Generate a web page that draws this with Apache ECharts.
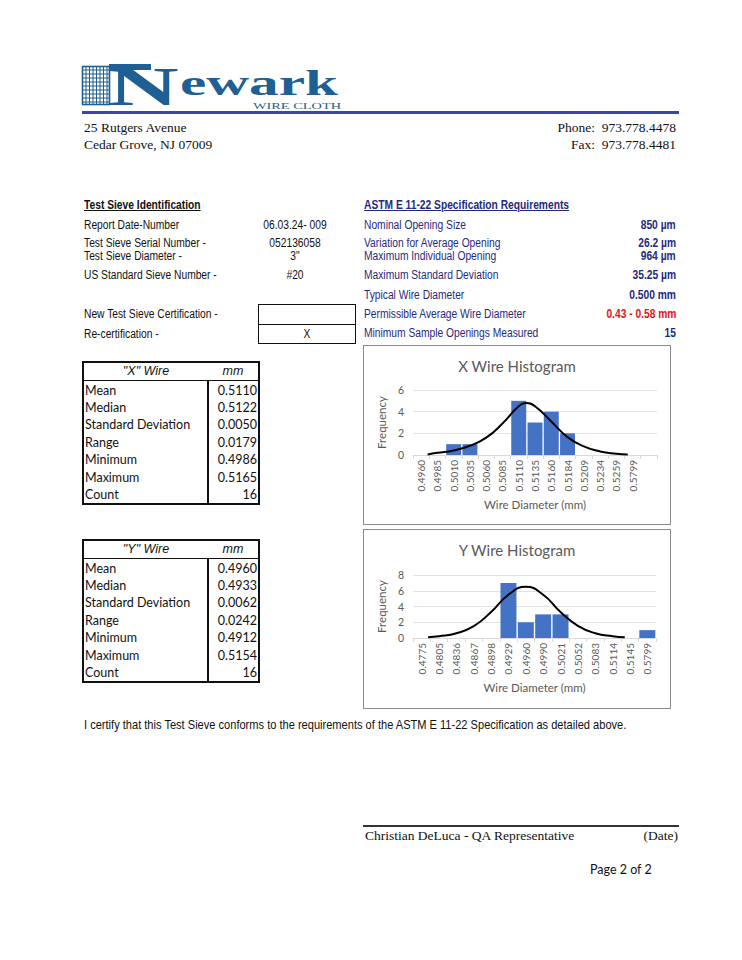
<!DOCTYPE html>
<html>
<head>
<meta charset="utf-8">
<script src="https://cdn.jsdelivr.net/npm/echarts@6/dist/echarts.min.js"></script>
<style>
  html, body { margin:0; padding:0; background:#fff; }
  #page { position:relative; width:742px; height:960px; overflow:hidden; background:#fff; }
  .t { position:absolute; white-space:nowrap; line-height:14px; }
  .serif { font-family:'Liberation Serif','Times New Roman',serif; font-size:13.5px; color:#111; line-height:16px; }
  .nar { font-family:'Liberation Sans',Arial,sans-serif; font-size:12.5px; color:#111; transform:scaleX(0.82); transform-origin:left center; }
  .nar.r { transform-origin:right center; }
  .nar.c { transform-origin:center center; }
  .navy { color:#1f2a7c; }
  .b { font-weight:bold; }
  .u { text-decoration:underline; }
  .r { text-align:right; }
  .c { text-align:center; }
  .box { position:absolute; border:1px solid #111; box-sizing:border-box; }
  table.st { position:absolute; border-collapse:collapse; border:2px solid #111; font-family:Lato,'Open Sans',sans-serif; font-size:12.5px; color:#111; }
  table.st td { padding:0 1px; height:17.4px; line-height:15px; }
  table.st td.v { text-align:right; border-left:2px solid #111; }
  table.st tr.h td { font-family:'Liberation Sans',Arial,sans-serif; font-style:italic; font-size:12.5px; text-align:center; border-bottom:1px solid #111; border-left:none; }
  .chartbox { position:absolute; border:1px solid #8c8c8c; box-sizing:border-box; background:#fff; }
</style>
</head>
<body>
<div id="page">
  <!-- Logo -->
  <svg style="position:absolute;left:76px;top:40px" width="290" height="72" viewBox="0 0 290 72">
    <g fill="none" stroke="#1f5f94">
      <rect x="6.5" y="26.5" width="27" height="38" stroke-width="1.6"/>
      <path d="M10 27v37M13.5 27v37M17 27v37M20.5 27v37M24 27v37M27.5 27v37M31 27v37M7 30h26M7 34h26M7 38h26M7 42h26M7 46h26M7 50h26M7 54h26M7 58h26M7 62h26" stroke-width="1"/>
    </g>
    <rect x="33" y="24" width="42" height="6" fill="#1f5f94"/>
    <text transform="translate(32,65) scale(1.75,1)" font-family="'Liberation Serif','DejaVu Serif',serif" font-weight="bold" font-size="56" fill="#1f5f94">N</text>
    <text x="104" y="55" font-family="'Liberation Serif','DejaVu Serif',serif" font-weight="bold" font-size="36" fill="#1f5f94" textLength="158" lengthAdjust="spacingAndGlyphs">ewark</text>
    <text x="177" y="68.5" font-family="'Liberation Serif','DejaVu Serif',serif" font-size="8.5" fill="#1f5f94" textLength="88" lengthAdjust="spacingAndGlyphs">WIRE CLOTH</text>
  </svg>
  <div style="position:absolute;left:82px;top:111px;width:597px;height:2.5px;background:#3b46a8"></div>

  <div class="t serif" style="left:84px;top:120px">25 Rutgers Avenue</div>
  <div class="t serif" style="left:84px;top:137px">Cedar Grove, NJ 07009</div>
  <div class="t serif r" style="right:66px;top:120px">Phone:&nbsp; 973.778.4478</div>
  <div class="t serif r" style="right:66px;top:137px">Fax:&nbsp; 973.778.4481</div>

  <!-- Left identification -->
  <div class="t nar b u" style="left:84px;top:198px">Test Sieve Identification</div>
  <div class="t nar" style="left:84px;top:218px">Report Date-Number</div>
  <div class="t nar c" style="left:240px;width:110px;top:218px">06.03.24- 009</div>
  <div class="t nar" style="left:84px;top:236px">Test Sieve Serial Number -</div>
  <div class="t nar c" style="left:240px;width:110px;top:236px">052136058</div>
  <div class="t nar" style="left:84px;top:249px">Test Sieve Diameter -</div>
  <div class="t nar c" style="left:240px;width:110px;top:249px">3"</div>
  <div class="t nar" style="left:84px;top:268px">US Standard Sieve Number -</div>
  <div class="t nar c" style="left:240px;width:110px;top:268px">#20</div>
  <div class="t nar" style="left:84px;top:307px">New Test Sieve Certification -</div>
  <div class="t nar" style="left:84px;top:327px">Re-certification -</div>
  <div class="box" style="left:258px;top:304px;width:98px;height:21px"></div>
  <div class="box" style="left:258px;top:324px;width:98px;height:20px"></div>
  <div class="t nar c" style="left:258px;width:98px;top:327px">X</div>

  <!-- Right spec -->
  <div class="t nar b u navy" style="left:364px;top:198px">ASTM E 11-22 Specification Requirements</div>
  <div class="t nar navy" style="left:364px;top:218px">Nominal Opening Size</div>
  <div class="t nar navy b r" style="right:66px;top:218px">850 µm</div>
  <div class="t nar navy" style="left:364px;top:236px">Variation for Average Opening</div>
  <div class="t nar navy b r" style="right:66px;top:236px">26.2 µm</div>
  <div class="t nar navy" style="left:364px;top:249px">Maximum Individual Opening</div>
  <div class="t nar navy b r" style="right:66px;top:249px">964 µm</div>
  <div class="t nar navy" style="left:364px;top:268px">Maximum Standard Deviation</div>
  <div class="t nar navy b r" style="right:66px;top:268px">35.25 µm</div>
  <div class="t nar navy" style="left:364px;top:288px">Typical Wire Diameter</div>
  <div class="t nar navy b r" style="right:66px;top:288px">0.500 mm</div>
  <div class="t nar navy" style="left:364px;top:307px">Permissible Average Wire Diameter</div>
  <div class="t nar b r" style="right:66px;top:307px;color:#e3151b">0.43 - 0.58 mm</div>
  <div class="t nar navy" style="left:364px;top:326px">Minimum Sample Openings Measured</div>
  <div class="t nar navy b r" style="right:66px;top:326px">15</div>

  <!-- Stats tables -->
  <table class="st" id="xTable" style="left:82px;top:361px;width:178px"></table>
  <table class="st" id="yTable" style="left:82px;top:539px;width:178px"></table>

  <!-- Charts -->
  <div class="chartbox" style="left:363px;top:345px;width:308px;height:180px"><div id="xChart" style="width:306px;height:178px"></div></div>
  <div class="chartbox" style="left:363px;top:529px;width:308px;height:180px"><div id="yChart" style="width:306px;height:178px"></div></div>

  <div class="t nar" style="left:84px;top:718px;font-size:13.5px">I certify that this Test Sieve conforms to the requirements of the ASTM E 11-22 Specification as detailed above.</div>

  <div style="position:absolute;left:363px;top:825px;width:316px;height:1.5px;background:#333"></div>
  <div class="t serif" style="left:365px;top:828px">Christian DeLuca - QA Representative</div>
  <div class="t serif r" style="right:64px;top:828px">(Date)</div>
  <div class="t" style="left:590px;top:863px;font-family:Lato,'Open Sans',sans-serif;font-size:12.5px;color:#111">Page 2 of 2</div>
</div>

<script>
// ---- Statistics tables ----
const statLabels = ['Mean','Median','Standard Deviation','Range','Minimum','Maximum','Count'];
const xStats = ['0.5110','0.5122','0.0050','0.0179','0.4986','0.5165','16'];
const yStats = ['0.4960','0.4933','0.0062','0.0242','0.4912','0.5154','16'];

function fillTable(id, head, vals) {
  const t = document.getElementById(id);
  let h = '<tr class="h"><td style="width:122px">' + head + '</td><td>mm</td></tr>';
  statLabels.forEach((l, i) => { h += '<tr><td>' + l + '</td><td class="v">' + vals[i] + '</td></tr>'; });
  t.innerHTML = h;
}
fillTable('xTable', '"X" Wire', xStats);
fillTable('yTable', '"Y" Wire', yStats);

// ---- Histogram data ----
// X chart has a trailing unlabeled (empty) bin
const xBins = ['0.4960','0.4985','0.5010','0.5035','0.5060','0.5085','0.5110','0.5135','0.5160','0.5184','0.5209','0.5234','0.5259','0.5799',''];
const xCounts = [0,0,1,1,0,0,5,3,4,2,0,0,0,0,0];
// normal curve: [bin position, frequency]
const xCurve = [[0.4,0.05],[1,0.2],[2,0.42],[3,0.85],[4,1.6],[5,2.9],[6,4.5],[6.5,4.8],[7,4.5],[8,3.1],[9,1.65],[10,0.8],[11,0.33],[12,0.12],[12.7,0.05]];

const yBins = ['0.4775','0.4805','0.4836','0.4867','0.4898','0.4929','0.4960','0.4990','0.5021','0.5052','0.5083','0.5114','0.5145','0.5799'];
const yCounts = [0,0,0,0,0,7,2,3,3,0,0,0,0,1];
const yCurve = [[0.37,0.1],[1,0.22],[2,0.6],[3,1.5],[4,3.3],[5,5.5],[6,6.5],[7,5.5],[8,3.3],[9,1.55],[10,0.6],[11,0.22],[11.7,0.1]];

const fontF = 'Lato, "Open Sans", sans-serif';
function makeChart(id, title, bins, counts, curve, ymax, grid) {
  const c = echarts.init(document.getElementById(id), null, {renderer:'svg'});
  c.setOption({
    animation:false,
    title:{ text:title, left:'center', top:7, textStyle:{ fontFamily:fontF, fontSize:15, fontWeight:'normal', color:'#595959' } },
    grid: grid,
    xAxis:[{
      type:'category', data:bins,
      name:'Wire Diameter (mm)', nameLocation:'middle', nameGap:43,
      nameTextStyle:{ fontFamily:fontF, fontSize:11.5, color:'#595959' },
      axisLine:{ lineStyle:{ color:'#d9d9d9' } },
      axisTick:{ show:true, length:4, lineStyle:{ color:'#d9d9d9' } },
      axisLabel:{ rotate:90, fontFamily:fontF, fontSize:10, color:'#595959', margin:5, interval:0 }
    },{
      type:'value', min:-0.5, max:bins.length - 0.5, show:false
    }],
    yAxis:{
      type:'value', min:0, max:ymax, interval:2,
      name:'Frequency', nameLocation:'middle', nameGap:22,
      nameTextStyle:{ fontFamily:fontF, fontSize:11.5, color:'#595959' },
      axisLine:{ show:false }, axisTick:{ show:false },
      axisLabel:{ fontFamily:fontF, fontSize:10.5, color:'#595959', margin:9 },
      splitLine:{ lineStyle:{ color:'#e3e3e3' } }
    },
    series:[{
      type:'bar', data:counts, barCategoryGap:'8%', itemStyle:{ color:'#4472c4' }
    },{
      type:'line', xAxisIndex:1, data:curve, smooth:true, showSymbol:false, symbol:'none',
      lineStyle:{ color:'#000', width:2 }
    }]
  });
}
makeChart('xChart', 'X Wire Histogram', xBins, xCounts, xCurve, 6, {left:49, right:13, top:44, bottom:69});
makeChart('yChart', 'Y Wire Histogram', yBins, yCounts, yCurve, 8, {left:49, right:14, top:45, bottom:70});
</script>
</body>
</html>
